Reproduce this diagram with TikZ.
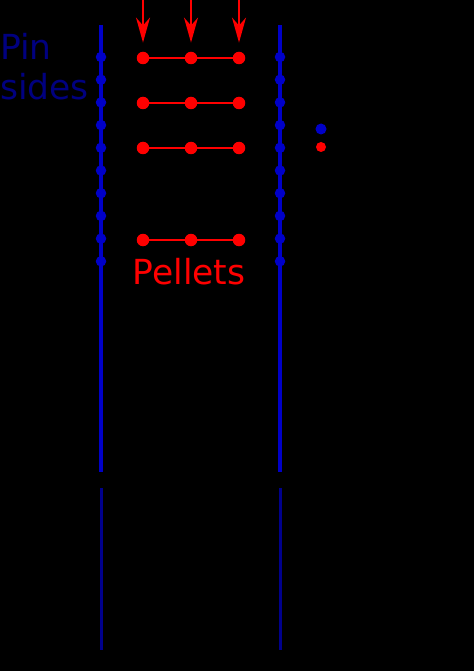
\documentclass[tikz,border=0pt]{standalone}
\usepackage{fontspec}
\setmainfont{DejaVu Sans}
\usetikzlibrary{positioning,arrows.meta}
\definecolor{pinblue}{RGB}{0,0,200}
\definecolor{pinnavy}{RGB}{0,0,128}
\definecolor{pindark}{RGB}{0,0,140}

\begin{document}
\begin{tikzpicture}[x=1pt, y=-1pt,
      pin/.style={circle, fill=pinblue, inner sep=0pt, minimum size=10.5pt},
      pellet/.style={circle, fill=red, inner sep=0pt, minimum size=12.5pt},
      wall/.style={draw=pinblue, line width=3.6pt},
      lowwall/.style={draw=pindark, line width=3pt},
      link/.style={draw=red, line width=1.6pt},
      push/.style={draw=red, line width=1.8pt, shorten >=9pt, -{Stealth[length=25pt, width=14pt, inset=8pt]}},
      tag/.style={font=\fontsize{34.5}{40}\selectfont, inner sep=0pt}
  ]
      % Background and page size
      \fill[black] (0,0) rectangle (474,671);
      \useasboundingbox (0,0) rectangle (474,671);

      % Pin sides
      \foreach \side/\x in {l/101, r/280} {
        \coordinate (\side top) at (\x,25);
        \coordinate (\side bot) at (\x,472);
        \coordinate (\side low) at (\x,488);
        \coordinate (\side end) at (\x,650);
        \draw[wall] (\side top) -- (\side bot);
        \draw[lowwall] (\side low) -- (\side end);
        \foreach \i in {0,...,9}
          \node[pin] (\side\i) at (\x,57+22.7*\i) {};
      }

      % Pellets
      \foreach \y [count=\r] in {58,103,148,240} {
        \node[pellet] (p\r a) at (143,\y) {};
        \node[pellet] (p\r b) at (191,\y) {};
        \node[pellet] (p\r c) at (239,\y) {};
        \draw[link] (p\r a) -- (p\r b) -- (p\r c);
      }

      % Load arrows
      \foreach \c/\x in {a/143, b/191, c/239} {
        \coordinate (in\c) at (\x,0);
        \draw[push] (in\c) -- (p1\c);
      }

      % Key
      \node[pin, minimum size=11pt] (keypin) at (321,129) {};
      \node[pellet, minimum size=10pt] (keypellet) at (321,147) {};

      % Labels
      \node[tag, text=pinnavy, anchor=base west] (pintag) at (0,60) {Pin};
      \node[tag, text=pinnavy, anchor=base west] (sidetag) at (0,100) {sides};
      \node[tag, text=red, anchor=base] (pellettag) at (189,284) {Pellets};
  \end{tikzpicture}
\end{document}
